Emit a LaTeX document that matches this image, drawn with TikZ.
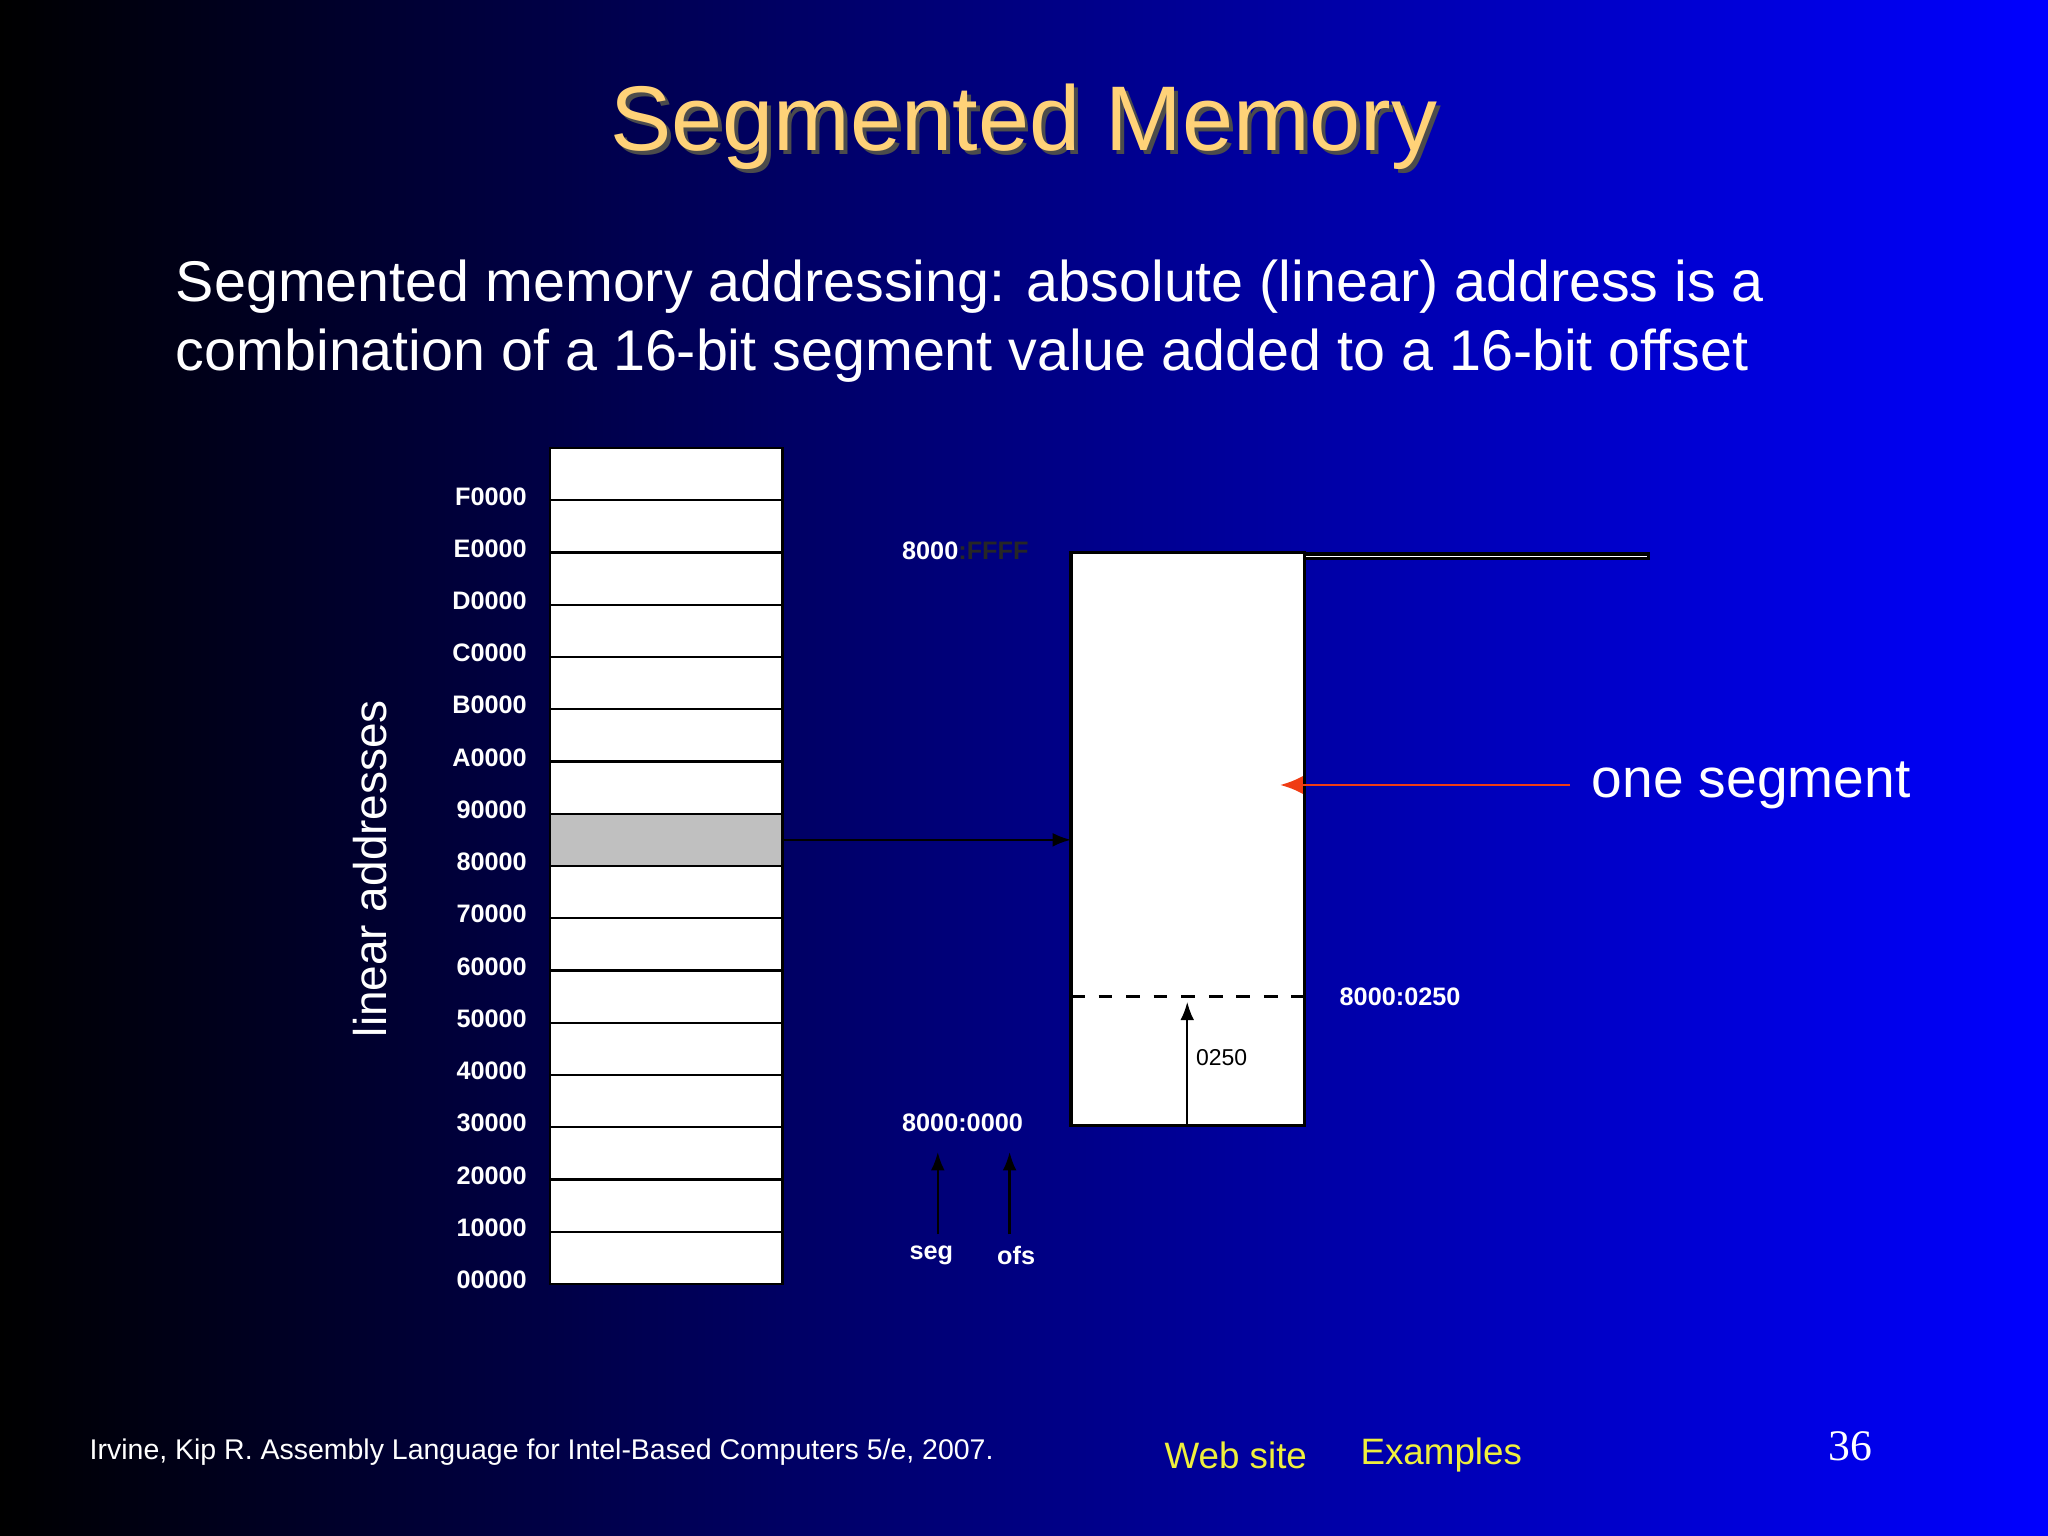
\documentclass[tikz,border=0pt]{standalone}
\usepackage{fontspec}
\setmainfont{Liberation Sans}
\newfontfamily\serifnum{Liberation Serif}
\usetikzlibrary{arrows.meta}
\definecolor{titley}{RGB}{255,210,120}
\definecolor{linky}{RGB}{240,240,60}
\definecolor{segred}{RGB}{240,60,20}
\definecolor{cellgray}{RGB}{192,192,192}
\begin{document}
\begin{tikzpicture}[x=0.01cm,y=-0.01cm,
  cell/.style={draw=black,line width=0.5pt,fill=white},
  addr/.style={anchor=east,text=white,font=\fontsize{5.5}{6}\selectfont\bfseries,inner sep=0pt},
  rlab/.style={anchor=west,text=white,font=\fontsize{5.5}{6}\selectfont\bfseries,inner sep=0pt},
  arr/.style={-{Latex[length=4pt,width=3pt]},line width=0.5pt,black}]
\useasboundingbox (0,0) rectangle (1568,1176);
\shade[left color=black,right color={rgb,255:red,0;green,0;blue,255},middle color={rgb,255:red,0;green,0;blue,130}] (0,0) rectangle (1568,1176);
% title
\node[text=black!70,font=\fontsize{20}{24}\selectfont] at (787,100) {Segmented Memory};
\node[text=titley,font=\fontsize{20}{24}\selectfont] (title) at (784,97) {Segmented Memory};
\node[anchor=west,text=white,font=\fontsize{12.5}{15}\selectfont,align=left,inner sep=0pt] (body) at (134,246) {Segmented memory addressing: absolute (linear) address is a\\combination of a 16-bit segment value added to a 16-bit offset};
% memory column
\foreach \i in {0,...,15}{
  \pgfmathsetmacro\yt{343+40*\i}
  \draw[cell] (421,\yt) rectangle ++(178,40);
}
\fill[cellgray,draw=black,line width=0.5pt] (421,623) rectangle (599,663);
\coordinate (gr) at (599,643);
\foreach \lab [count=\k from 0] in {F0000,E0000,D0000,C0000,B0000,A0000,90000,80000,70000,60000,50000,40000,30000,20000,10000,00000}{
  \node[addr] at (404,{380+40*\k}) {\lab};
}
\node[rotate=90,text=white,font=\fontsize{10}{12}\selectfont] (lin) at (283,665) {linear addresses};
% segment
\node[draw=black,line width=0.7pt,fill=white,minimum width=179\pgflinewidth,inner sep=0pt,anchor=north west] (segbox) at (820,423) {};
\draw[line width=0.7pt,fill=white] (820,423) rectangle (999,862);
\coordinate (segL) at (820,643);
\draw[arr] (gr) -- (segL);
\draw[dashed,line width=0.5pt] (820,763) -- (999,763);
\coordinate (ob) at (909,862);
\coordinate (ot) at (909,767);
\draw[arr] (ob) -- (ot);
\node[anchor=west,font=\fontsize{5}{6}\selectfont,inner sep=0pt] (off) at (915,810) {0250};
\node[rlab] (ffff) at (690,422) {8000\textcolor{black!85}{:FFFF}};
\node[rlab] (l250) at (1025,763) {8000:0250};
\node[rlab] (l0) at (690,860) {8000:0000};
\node[rlab,anchor=center] (seg) at (713,961) {seg};
\node[rlab,anchor=center] (ofs) at (778,961) {ofs};
\draw[arr] (718,945) -- (718,882);
\draw[arr] (773,945) -- (773,882);
% one segment
\node[anchor=west,text=white,font=\fontsize{12}{14}\selectfont,inner sep=0pt] (one) at (1218,601) {one segment};
\coordinate (redtip) at (980,601);
\draw[-{Latex[length=5pt,width=4pt]},segred,line width=0.6pt] (1202,601) -- (redtip);
% footer
\node[anchor=west,text=white,font=\fontsize{6.2}{7}\selectfont,inner sep=0pt] (cite) at (68,1112) {Irvine, Kip R. Assembly Language for Intel-Based Computers 5/e, 2007.};
\node[anchor=west,text=linky,font=\fontsize{8}{9}\selectfont,inner sep=0pt] (web) at (891,1114) {Web site};
\node[anchor=west,text=linky,font=\fontsize{8}{9}\selectfont,inner sep=0pt] (ex) at (1041,1114) {Examples};
\node[anchor=east,text=white,font=\serifnum\fontsize{9.5}{11}\selectfont,inner sep=0pt] (num) at (1434,1107) {36};
\end{tikzpicture}
\end{document}
